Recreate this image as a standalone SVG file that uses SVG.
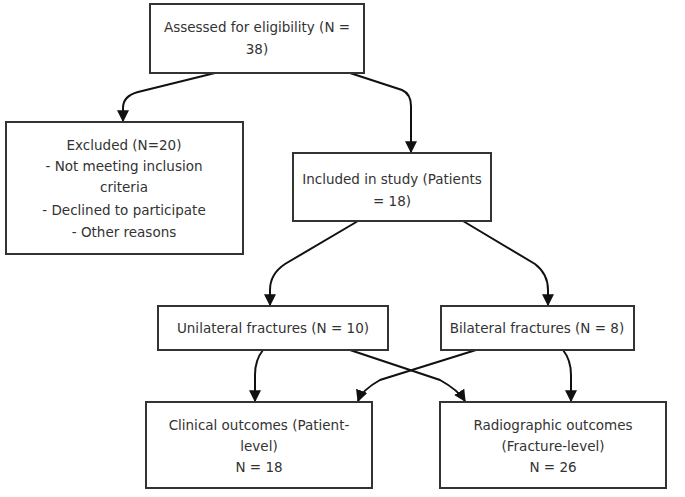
<svg xmlns="http://www.w3.org/2000/svg" width="685" height="497" viewBox="0 0 685 497">
<defs>
<style>
.box{fill:#fff;stroke:#333;stroke-width:2}
text{font-family:"DejaVu Sans","Liberation Sans",sans-serif;font-size:13.5px;fill:#333;text-anchor:middle}
.c{fill:none;stroke:#111;stroke-width:2;marker-end:url(#a)}
</style>
<marker id="a" viewBox="0 0 10 10" refX="9" refY="5" markerWidth="6" markerHeight="6" orient="auto"><path d="M0 0L10 5L0 10z" fill="#111"/></marker>
</defs>
<rect width="685" height="497" fill="#fff"/>
<g id="connectors">
<path class="c" d="M215 73L138 92Q123 96 123 108L123 121"/>
<path class="c" d="M350 73L402 90Q411 94 411 106L411 152"/>
<path class="c" d="M358 221L285 264Q270 274 270 290L270 305"/>
<path class="c" d="M463 221L535 264Q548 274 548 290L548 305"/>
<path class="c" d="M263 350Q255 360 255 375L255 401"/>
<path class="c" d="M350 350L440 380Q458 390 465 401"/>
<path class="c" d="M476 350L380 380Q362 390 358 401"/>
<path class="c" d="M563 350Q571 360 571 375L571 401"/>
</g>
<g id="n1"><rect class="box" x="150" y="4" width="214" height="69"/><text x="257" y="32">Assessed for eligibility (N =</text><text x="257" y="54">38)</text></g>
<g id="n2"><rect class="box" x="6" y="122" width="237" height="132"/><text x="124" y="150">Excluded (N=20)</text><text x="124" y="171">- Not meeting inclusion</text><text x="124" y="192">criteria</text><text x="124" y="215">- Declined to participate</text><text x="124" y="237">- Other reasons</text></g>
<g id="n3"><rect class="box" x="293" y="153" width="198" height="68"/><text x="392" y="184">Included in study (Patients</text><text x="392" y="206">= 18)</text></g>
<g id="n4"><rect class="box" x="158" y="306" width="230" height="44"/><text x="273" y="333">Unilateral fractures (N = 10)</text></g>
<g id="n5"><rect class="box" x="441" y="306" width="193" height="44"/><text x="537" y="333">Bilateral fractures (N = 8)</text></g>
<g id="n6"><rect class="box" x="146" y="402" width="226" height="86"/><text x="259" y="430">Clinical outcomes (Patient-</text><text x="259" y="451">level)</text><text x="259" y="472">N = 18</text></g>
<g id="n7"><rect class="box" x="440" y="402" width="226" height="86"/><text x="553" y="430">Radiographic outcomes</text><text x="553" y="451">(Fracture-level)</text><text x="553" y="472">N = 26</text></g>
</svg>
